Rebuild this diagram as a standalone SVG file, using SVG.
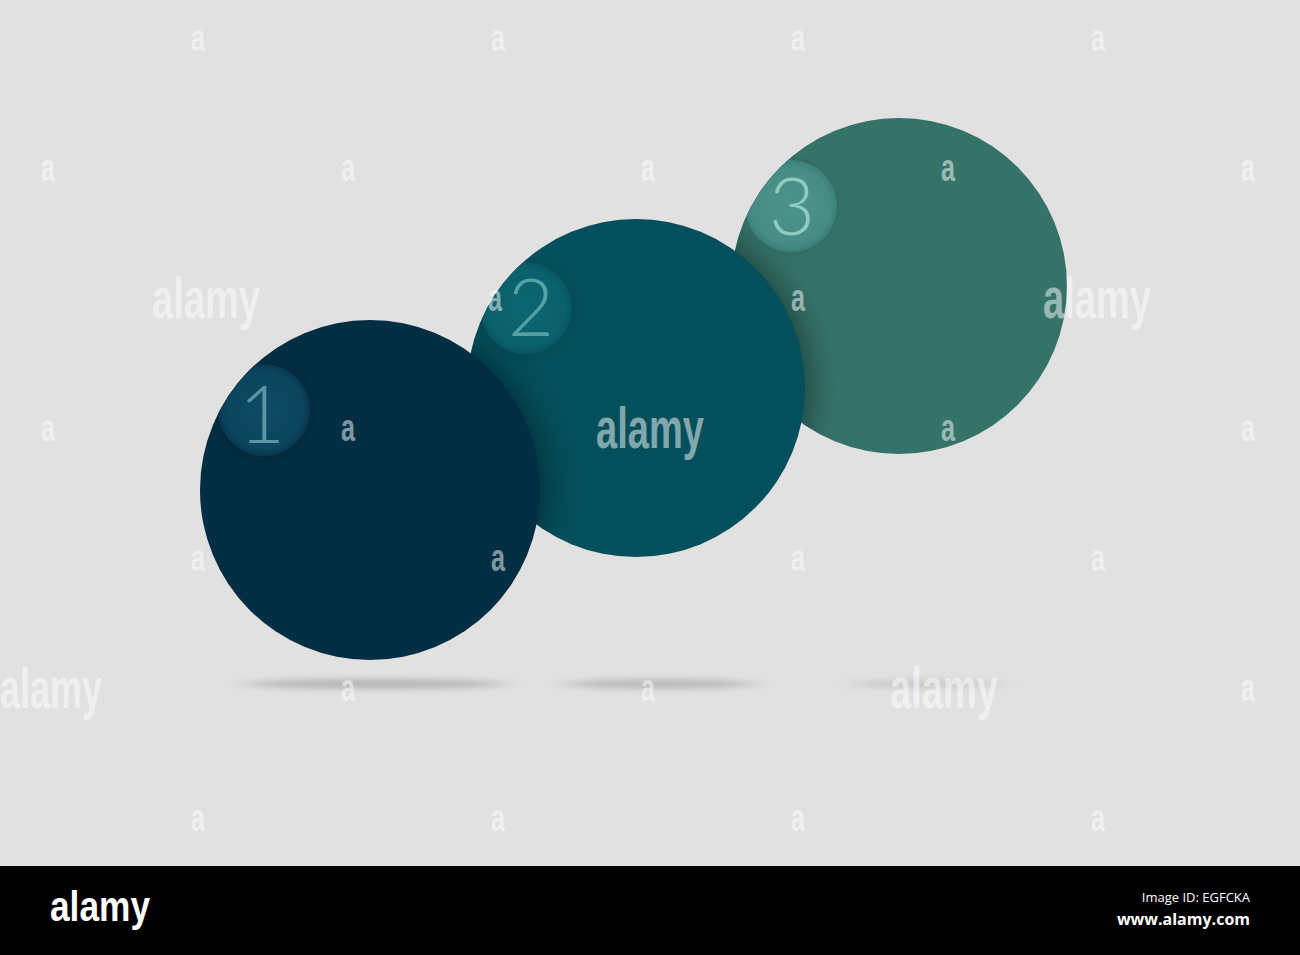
<svg xmlns="http://www.w3.org/2000/svg" width="1300" height="955" viewBox="0 0 1300 955">
<style>
.wm{font-family:"Liberation Sans",Arial,sans-serif;font-weight:bold;fill:#ffffff;fill-opacity:0.5}
.wa{font-size:39px}
.wl{font-size:58px}
.num{font-family:Lato,"Open Sans",sans-serif;font-weight:300;font-size:80px;text-anchor:middle}
.foot{font-family:"Open Sans","DejaVu Sans",sans-serif;fill:#ffffff;text-anchor:end}
</style>
<defs>
<filter id="blurS" x="-50%" y="-50%" width="200%" height="200%"><feGaussianBlur stdDeviation="16"/></filter>
<filter id="blurG" x="-30%" y="-500%" width="160%" height="1100%"><feGaussianBlur stdDeviation="12 3"/></filter>
<filter id="blurB" x="-30%" y="-30%" width="160%" height="160%"><feGaussianBlur stdDeviation="3"/></filter>
<clipPath id="c1"><circle cx="370" cy="490" r="170"/></clipPath>
<clipPath id="c2"><circle cx="636" cy="388" r="169"/></clipPath>
<clipPath id="c3"><circle cx="899" cy="286" r="168"/></clipPath>
<radialGradient id="b1" cx="0.5" cy="0.5" r="0.5"><stop offset="0" stop-color="#0c4c64"/><stop offset="0.85" stop-color="#0a455d"/><stop offset="1" stop-color="#07384f"/></radialGradient>
<radialGradient id="b2" cx="0.5" cy="0.5" r="0.5"><stop offset="0" stop-color="#0b6671"/><stop offset="0.85" stop-color="#0a606b"/><stop offset="1" stop-color="#075562"/></radialGradient>
<radialGradient id="b3" cx="0.5" cy="0.5" r="0.5"><stop offset="0" stop-color="#4c948b"/><stop offset="0.85" stop-color="#468c84"/><stop offset="1" stop-color="#3c7f77"/></radialGradient>
</defs>
<rect x="0" y="0" width="1300" height="955" fill="#e1e1e1"/>
<g id="ground-shadows">
<ellipse cx="375" cy="684" rx="130" ry="5" fill="#9a9a9a" fill-opacity="0.6" filter="url(#blurG)"/>
<ellipse cx="660" cy="684" rx="95" ry="5" fill="#9a9a9a" fill-opacity="0.55" filter="url(#blurG)"/>
<ellipse cx="925" cy="684" rx="75" ry="4" fill="#a5a5a5" fill-opacity="0.4" filter="url(#blurG)"/>
</g>
<g id="node3">
<circle cx="899" cy="286" r="168" fill="#357369"/>
<g clip-path="url(#c3)">
<circle cx="636" cy="388" r="176" fill="#000000" fill-opacity="0.4" filter="url(#blurS)"/>
<circle cx="790" cy="206" r="48" fill="#2a635c" fill-opacity="0.5" filter="url(#blurB)"/>
<circle cx="791" cy="206" r="46" fill="url(#b3)"/>
<text class="num" x="792" y="235" fill="#8ecbc0">3</text>
</g>
</g>
<g id="node2">
<circle cx="636" cy="388" r="169" fill="#034f5b"/>
<g clip-path="url(#c2)">
<circle cx="370" cy="490" r="176" fill="#000000" fill-opacity="0.4" filter="url(#blurS)"/>
<circle cx="525" cy="308" r="48" fill="#023f4a" fill-opacity="0.5" filter="url(#blurB)"/>
<circle cx="526" cy="308" r="46" fill="url(#b2)"/>
<text class="num" x="531" y="336" fill="#55a2a6">2</text>
</g>
</g>
<g id="node1">
<circle cx="370" cy="490" r="170" fill="#022e43"/>
<g clip-path="url(#c1)">
<circle cx="263" cy="410" r="48" fill="#011e2e" fill-opacity="0.5" filter="url(#blurB)"/>
<circle cx="264" cy="410" r="46" fill="url(#b1)"/>
<text class="num" x="262" y="443" fill="#5b94a4">1</text>
</g>
</g>
<g id="connectors"/>
<g id="watermarks">
<text class="wm wa" x="191" y="51" textLength="14" lengthAdjust="spacingAndGlyphs">a</text>
<text class="wm wa" x="491" y="51" textLength="14" lengthAdjust="spacingAndGlyphs">a</text>
<text class="wm wa" x="791" y="51" textLength="14" lengthAdjust="spacingAndGlyphs">a</text>
<text class="wm wa" x="1091" y="51" textLength="14" lengthAdjust="spacingAndGlyphs">a</text>
<text class="wm wa" x="41" y="181" textLength="14" lengthAdjust="spacingAndGlyphs">a</text>
<text class="wm wa" x="341" y="181" textLength="14" lengthAdjust="spacingAndGlyphs">a</text>
<text class="wm wa" x="641" y="181" textLength="14" lengthAdjust="spacingAndGlyphs">a</text>
<text class="wm wa" x="941" y="181" textLength="14" lengthAdjust="spacingAndGlyphs">a</text>
<text class="wm wa" x="1241" y="181" textLength="14" lengthAdjust="spacingAndGlyphs">a</text>
<text class="wm wl" x="152" y="318" textLength="108" lengthAdjust="spacingAndGlyphs">alamy</text>
<text class="wm wa" x="488" y="311" textLength="14" lengthAdjust="spacingAndGlyphs">a</text>
<text class="wm wa" x="791" y="311" textLength="14" lengthAdjust="spacingAndGlyphs">a</text>
<text class="wm wl" x="1043" y="318" textLength="108" lengthAdjust="spacingAndGlyphs">alamy</text>
<text class="wm wa" x="41" y="441" textLength="14" lengthAdjust="spacingAndGlyphs">a</text>
<text class="wm wa" x="341" y="441" textLength="14" lengthAdjust="spacingAndGlyphs">a</text>
<text class="wm wl" x="596" y="448" textLength="108" lengthAdjust="spacingAndGlyphs">alamy</text>
<text class="wm wa" x="941" y="441" textLength="14" lengthAdjust="spacingAndGlyphs">a</text>
<text class="wm wa" x="1241" y="441" textLength="14" lengthAdjust="spacingAndGlyphs">a</text>
<text class="wm wa" x="191" y="571" textLength="14" lengthAdjust="spacingAndGlyphs">a</text>
<text class="wm wa" x="491" y="571" textLength="14" lengthAdjust="spacingAndGlyphs">a</text>
<text class="wm wa" x="791" y="571" textLength="14" lengthAdjust="spacingAndGlyphs">a</text>
<text class="wm wa" x="1091" y="571" textLength="14" lengthAdjust="spacingAndGlyphs">a</text>
<text class="wm wl" x="0" y="708" textLength="102" lengthAdjust="spacingAndGlyphs">alamy</text>
<text class="wm wa" x="341" y="701" textLength="14" lengthAdjust="spacingAndGlyphs">a</text>
<text class="wm wa" x="641" y="701" textLength="14" lengthAdjust="spacingAndGlyphs">a</text>
<text class="wm wl" x="890" y="708" textLength="108" lengthAdjust="spacingAndGlyphs">alamy</text>
<text class="wm wa" x="1241" y="701" textLength="14" lengthAdjust="spacingAndGlyphs">a</text>
<text class="wm wa" x="191" y="831" textLength="14" lengthAdjust="spacingAndGlyphs">a</text>
<text class="wm wa" x="491" y="831" textLength="14" lengthAdjust="spacingAndGlyphs">a</text>
<text class="wm wa" x="791" y="831" textLength="14" lengthAdjust="spacingAndGlyphs">a</text>
<text class="wm wa" x="1091" y="831" textLength="14" lengthAdjust="spacingAndGlyphs">a</text>
</g>
<g id="footer">
<rect x="0" y="866" width="1300" height="89" fill="#000000"/>
<text x="50" y="921" font-family="Liberation Sans,Arial,sans-serif" font-weight="bold" font-size="42" fill="#ffffff" textLength="100" lengthAdjust="spacingAndGlyphs">alamy</text>
<text class="foot" x="1250" y="902" font-size="13">Image ID: EGFCKA</text>
<text class="foot" x="1250" y="925" font-size="16" font-weight="bold">www.alamy.com</text>
</g>
</svg>
